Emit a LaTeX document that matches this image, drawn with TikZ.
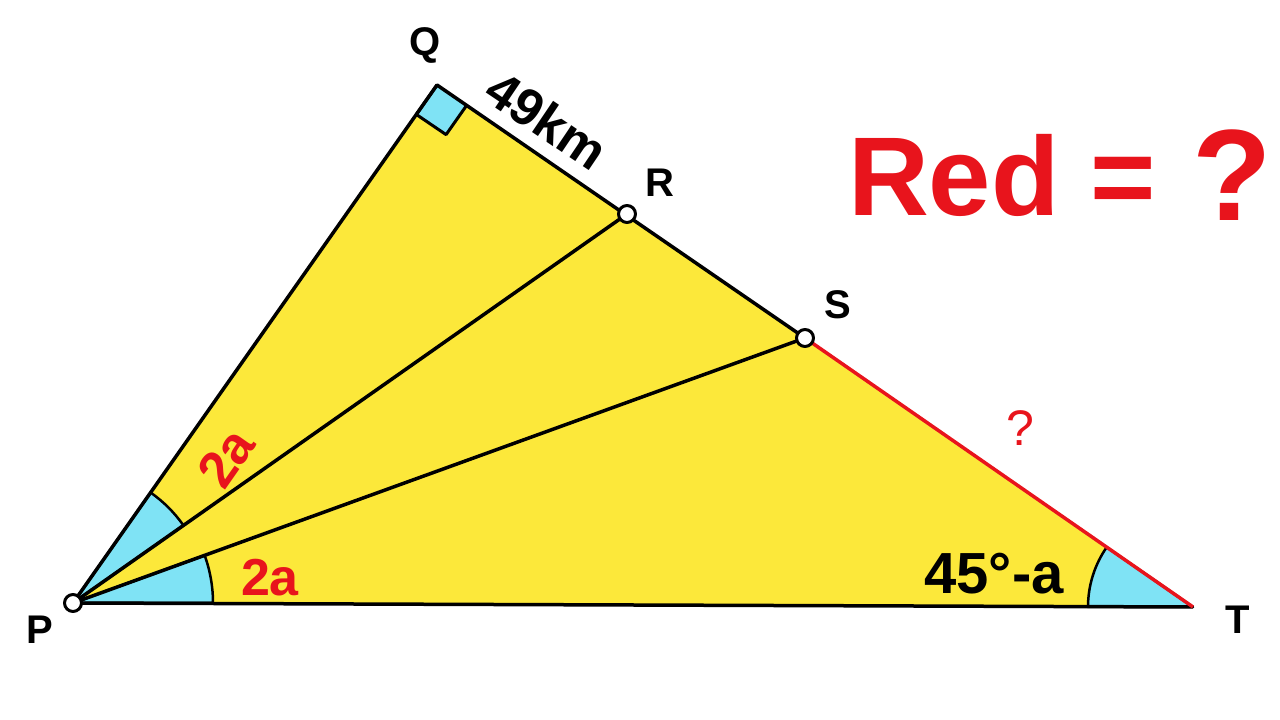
\documentclass[tikz,border=0pt]{standalone}
\usepackage{fontspec}
\setmainfont{Liberation Sans}
\usetikzlibrary{calc}
\definecolor{fillY}{HTML}{FCE83A}
\definecolor{angB}{HTML}{7FE3F5}
\definecolor{redC}{HTML}{E8141C}
\tikzset{pt/.style={circle,draw=black,fill=white,line width=3pt,inner sep=0pt,minimum size=17pt},
lbl/.style={font=\fontsize{40}{40}\selectfont\bfseries},
rlbl/.style={font=\fontsize{52}{52}\selectfont\bfseries,text=redC}}
\begin{document}
\begin{tikzpicture}[x=1pt,y=1pt,line width=3.5pt,line join=round]
\useasboundingbox (0,0) rectangle (1280,720);
\coordinate (P) at (73,117);
\coordinate (Q) at (437,635);
\coordinate (R) at (627,506);
\coordinate (S) at (805,382);
\coordinate (T) at (1193,113);
\fill[fillY] (P)--(Q)--(T)--cycle;
\draw[fill=angB,line width=2.5pt] (P) -- ++(54.9:135) arc[start angle=54.9,end angle=35.1,radius=135] -- cycle;
\draw[fill=angB,line width=2.5pt] (P) -- ++(19.9:140) arc[start angle=19.9,end angle=0,radius=140] -- cycle;
\draw[fill=angB,line width=2.5pt] (T) -- ++(145.3:105) arc[start angle=145.3,end angle=180,radius=105] -- cycle;
\draw[fill=angB,line width=3pt] (Q) -- ($(Q)+(-0.575*36,-0.818*36)$) -- ($(Q)+(-0.575*36+0.827*36,-0.818*36-0.561*36)$) -- ($(Q)+(0.827*36,-0.561*36)$);
\draw (P)--(Q)--(S);
\draw (P)--(T);
\draw (P)--(R);
\draw (P)--(S);
\draw[redC] (S)--(T);
\node[pt] (p) at (P) {};
\node[pt] (r) at (R) {};
\node[pt] (s) at (S) {};
\node[lbl] at (425,675) {Q};
\node[lbl] at (660,537) {R};
\node[lbl] at (838,415) {S};
\node[lbl] at (1238,100) {T};
\node[lbl] at (40,90) {P};
\node[font=\fontsize{52}{52}\selectfont\bfseries,rotate=-34] at (547,600) {49km};
\node[rlbl,rotate=55] at (226,262) {2a};
\node[rlbl] at (270,142) {2a};
\node[font=\fontsize{58}{58}\selectfont\bfseries] at (994,146) {45°-a};
\node[text=redC,font=\fontsize{50}{50}\selectfont] at (1020,292) {?};
\node[text=redC,font=\fontsize{112}{112}\selectfont\bfseries,anchor=west] at (843,545) {Red =};
\node[text=redC,font=\fontsize{130}{130}\selectfont\bfseries] at (1232,545) {?};
\end{tikzpicture}
\end{document}
